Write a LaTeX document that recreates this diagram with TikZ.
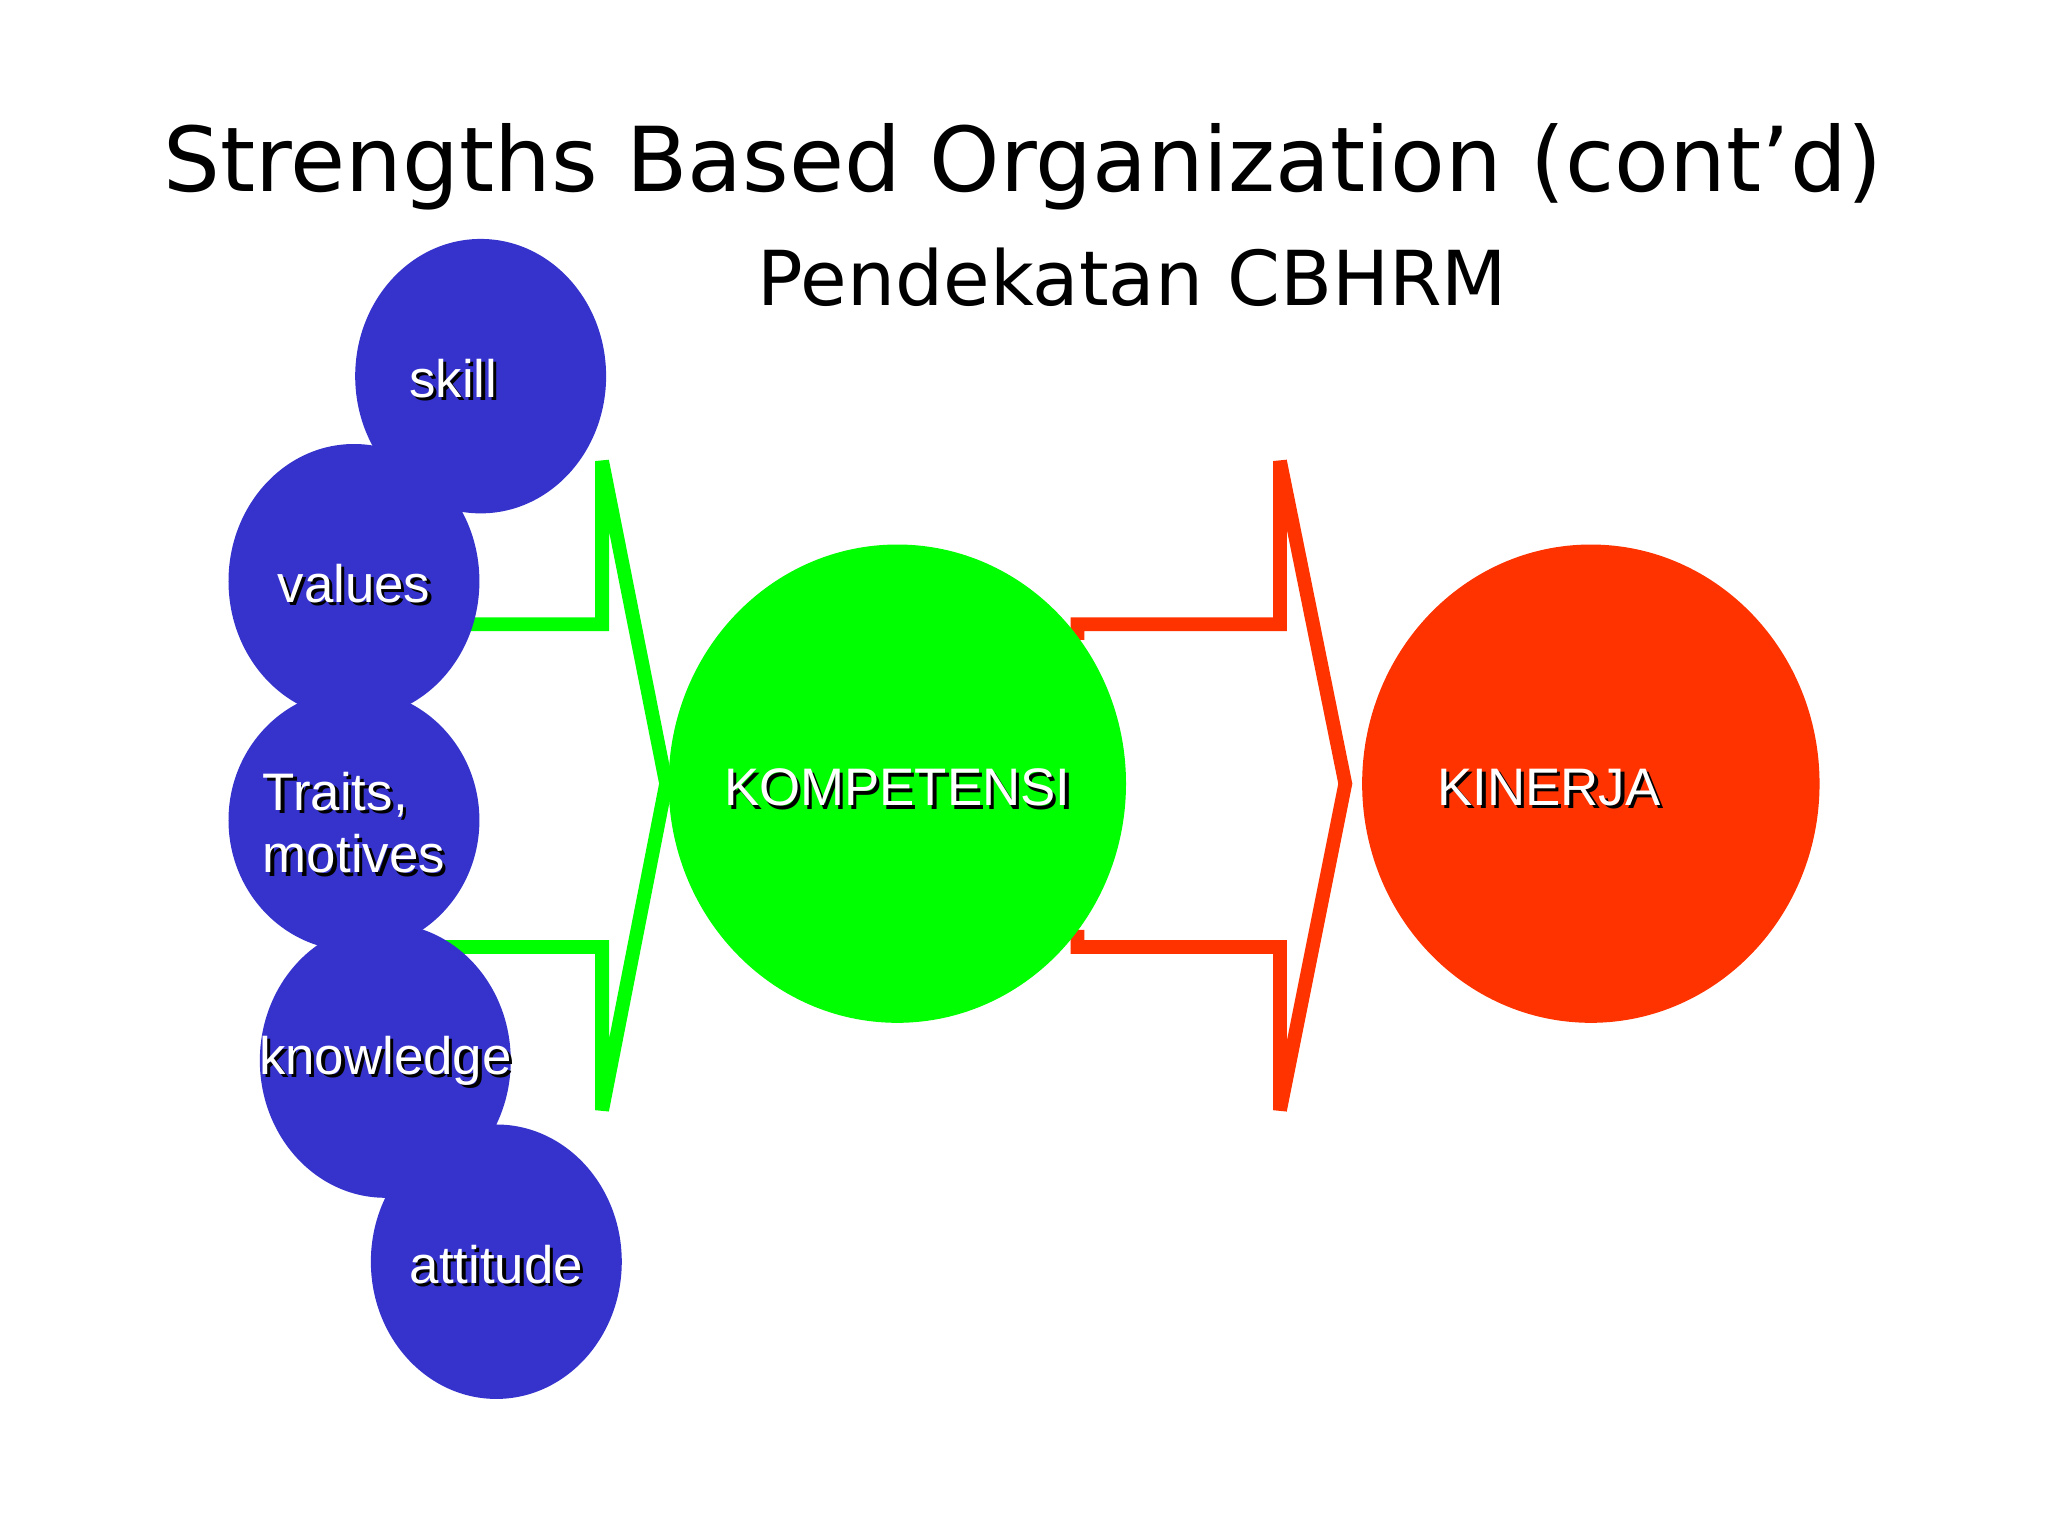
\documentclass[tikz,border=0pt]{standalone}
\usepackage{fontspec}
\setmainfont{DejaVu Sans}
\newfontfamily\lab{Liberation Sans}
\definecolor{blu}{HTML}{3533CC}
\definecolor{grn}{HTML}{00FF00}
\definecolor{rd}{HTML}{FF3300}
\usetikzlibrary{shapes.geometric}
\begin{document}
\begin{tikzpicture}[x=0.01cm,y=-0.01cm,
  blob/.style={ellipse,fill=blu,minimum width=1.92cm,minimum height=2.1cm,inner sep=0},
  arr/.style={line width=3pt,line join=miter},
  lbl/.style={text=white,font=\lab\fontsize{11.5}{13.5}\selectfont,align=left},
  shd/.style={text=black,font=\lab\fontsize{11.5}{13.5}\selectfont,align=left}]
\useasboundingbox (0,0) rectangle (1568,1176);
\node (title) at (783,128) {\fontsize{19.5}{22}\selectfont Strengths Based Organization (cont’d)};
\node (sub) at (867,212) {\fontsize{16.5}{19}\selectfont Pendekatan CBHRM};
% arrows
\coordinate (g1) at (340,478); \coordinate (g2) at (461,478); \coordinate (g3) at (461,353);
\coordinate (g4) at (510,600); \coordinate (g5) at (461,850); \coordinate (g6) at (461,725); \coordinate (g7) at (330,725);
\draw[arr,grn] (g1) -- (g2) -- (g3) -- (g4) -- (g5) -- (g6) -- (g7);
\coordinate (r1) at (825,490); \coordinate (r0) at (825,478); \coordinate (r2) at (980,478); \coordinate (r3) at (980,353);
\coordinate (r4) at (1030,600); \coordinate (r5) at (980,850); \coordinate (r6) at (980,725); \coordinate (r7) at (825,725); \coordinate (r8) at (825,712);
\draw[arr,rd] (r1) -- (r0) -- (r2) -- (r3) -- (r4) -- (r5) -- (r6) -- (r7) -- (r8);
% blobs
\node[blob] (skill) at (368,288) {};
\node[blob] (values) at (271,445) {};
\node[blob,minimum height=2.0cm] (traits) at (271,628) {};
\node[blob] (know) at (295,812) {};
\node[blob] (att) at (380,966) {};
\node[ellipse,fill=grn,minimum width=3.5cm,minimum height=3.66cm] (komp) at (687,600) {};
\node[ellipse,fill=rd,minimum width=3.5cm,minimum height=3.66cm] (kin) at (1218,600) {};
% labels
\foreach \n/\p/\t in {a/{347,290}/skill, b/{271,447}/values, c/{271,630}/{Traits,\\motives}, d/{295,812}/knowledge, e/{380,968}/attitude, f/{687,603}/KOMPETENSI, g/{1186,603}/KINERJA}{
  \node[shd] (s\n) at ([shift={(2.5,2.5)}]\p) {\t};
  \node[lbl] (t\n) at (\p) {\t};
}
\end{tikzpicture}
\end{document}
